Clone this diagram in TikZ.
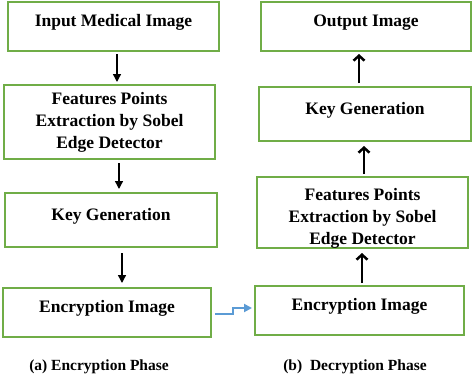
\documentclass[tikz,border=0pt]{standalone}
\usepackage{fontspec}
\setmainfont{Liberation Serif}
\usetikzlibrary{arrows.meta,calc}
\definecolor{boxgreen}{RGB}{112,173,71}
\definecolor{linkblue}{RGB}{91,155,213}
\begin{document}
\begin{tikzpicture}[x=1pt,y=-1pt,
  box/.style={draw=boxgreen, line width=2pt, fill=white, inner sep=0pt, align=center,
    font=\bfseries\fontsize{17.5}{22}\selectfont},
  oneline/.style={text height=12pt, text depth=12pt},
  larr/.style={-{Triangle[length=8pt,width=8pt]}, line width=1.4pt},
  rarr/.style={-{Straight Barb[length=5pt,width=11pt,line width=2.5pt]}, line width=2.6pt},
  blink/.style={draw=linkblue, line width=2pt, -{Triangle[length=8pt,width=8pt]}},
  captxt/.style={font=\bfseries\fontsize{15.5}{18}\selectfont, anchor=base, inner sep=0pt}
]
\useasboundingbox (0,0) rectangle (474,375);
\fill[white] (0,0) rectangle (474,375);

% left column
\node[box, oneline, minimum width=211pt, minimum height=49pt] (L1) at (113.5,26.5) {Input Medical Image};
\node[box, minimum width=211pt, minimum height=74pt] (L2) at (109.5,122) {Features Points\\Extraction by Sobel\\Edge Detector};
\node[box, oneline, minimum width=212pt, minimum height=54pt] (L3) at (111,220) {Key Generation};
\node[box, oneline, minimum width=208pt, minimum height=49pt] (L4) at (107,312.5) {Encryption Image};

% right column
\node[box, oneline, minimum width=210pt, minimum height=49pt] (R1) at (366,26.5) {Output Image};
\node[box, oneline, minimum width=212pt, minimum height=54pt] (R2) at (365,114) {Key Generation};
\node[box, minimum width=211pt, minimum height=71pt] (R3) at (362.5,212.5) {\rule{0pt}{23pt}Features Points\\Extraction by Sobel\\Edge Detector};
\node[box, oneline, minimum width=209pt, minimum height=49pt] (R4) at (359.5,310.5) {Encryption Image};

% captions
\node[captxt] (CA) at (99,370) {(a) Encryption Phase};
\node[captxt] (CB) at (355,370) {(b)\ \ Decryption Phase};

% left arrows
\coordinate (a1) at ([xshift=3.5pt]L1.south);
\coordinate (a2) at ([xshift=9.5pt]L2.south);
\coordinate (a3) at ([xshift=11pt]L3.south);
\draw[larr, shorten <=2pt, shorten >=2pt] (a1) -- (a1 |- L2.north);
\draw[larr, shorten <=3pt, shorten >=3pt] (a2) -- (a2 |- L3.north);
\draw[larr, shorten <=5pt, shorten >=4pt] (a3) -- (a3 |- L4.north);

% right arrows
\coordinate (b1) at ([xshift=-6pt]R2.north);
\coordinate (b2) at ([xshift=1.5pt]R3.north);
\coordinate (b3) at ([xshift=2.5pt]R4.north);
\draw[rarr, shorten <=3pt, shorten >=2pt] (b1) -- (b1 |- R1.south);
\draw[rarr, shorten <=2pt, shorten >=4pt] (b2) -- (b2 |- R2.south);
\draw[rarr, shorten <=2pt, shorten >=4pt] (b3) -- (b3 |- R3.south);

% blue link
\coordinate (c0) at ([xshift=3pt,yshift=-1.5pt]L4.east);
\coordinate (c1) at ([xshift=-2pt,yshift=2.5pt]R4.west);
\draw[blink] (c0) -- ++(18,0) |- (c1);
\end{tikzpicture}
\end{document}
